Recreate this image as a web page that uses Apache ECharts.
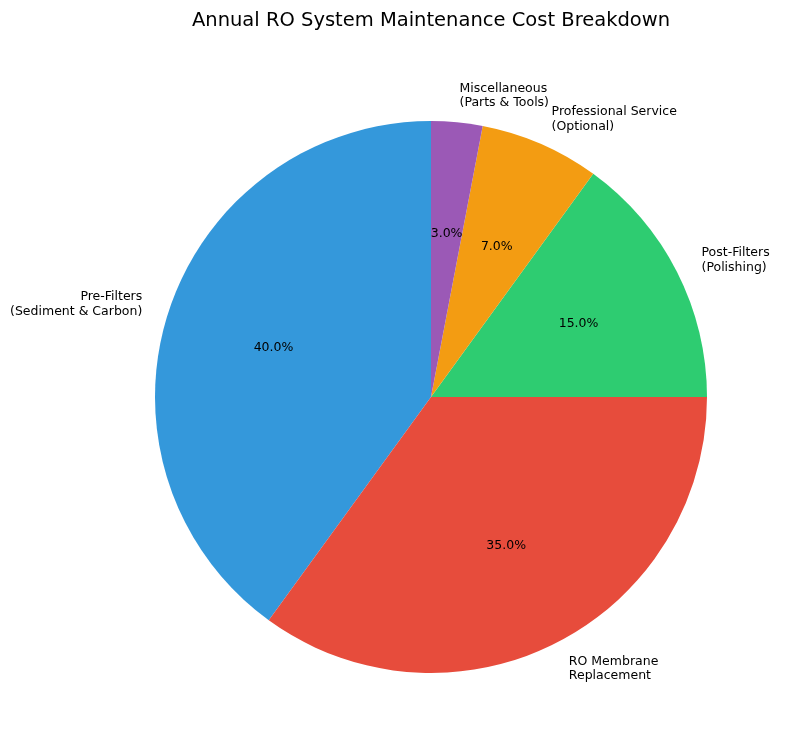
<!DOCTYPE html>
<html>
<head>
<meta charset="utf-8">
<script src="https://cdn.jsdelivr.net/npm/echarts@6/dist/echarts.min.js"></script>
<style>
html,body{margin:0;padding:0;background:#fff;}
#chart{width:785px;height:752px;}
</style>
</head>
<body>
<div id="chart"></div>
<script>
const categories = ['Pre-Filters\n(Sediment & Carbon)', 'RO Membrane\nReplacement', 'Post-Filters\n(Polishing)', 'Professional Service\n(Optional)', 'Miscellaneous\n(Parts & Tools)'];
const values = [40, 35, 15, 7, 3];
const colors = ['#3498db', '#e74c3c', '#2ecc71', '#f39c12', '#9b59b6'];

const cx = 431, cy = 397, R = 276;
const chart = echarts.init(document.getElementById('chart'));
const font = 'DejaVu Sans';
const data = categories.map((c, i) => ({ name: c, value: values[i], itemStyle: { color: colors[i] } }));
chart.setOption({
  animation: false,
  title: {
    text: 'Annual RO System Maintenance Cost Breakdown',
    left: cx - 5, top: 6, textAlign: 'center',
    textStyle: { fontFamily: font, fontSize: 19.5, fontWeight: 'normal', color: '#000' }
  },
  series: [
    {
      type: 'pie', center: [cx, cy], radius: [0, R],
      startAngle: 90, clockwise: false, avoidLabelOverlap: false,
      data: data,
      itemStyle: { borderWidth: 0 },
      label: {
        show: true, position: 'outside', formatter: '{b}',
        fontFamily: font, fontSize: 12.5, lineHeight: 14.5, color: '#000',
        distanceToLabelLine: 0, offset: [0, 1]
      },
      labelLine: { show: false, length: R * 0.1, length2: 0 },
      emphasis: { disabled: true }
    },
    {
      type: 'pie', center: [cx, cy], radius: [R * 0.2 - 6, R],
      startAngle: 90, clockwise: false, avoidLabelOverlap: false, silent: true,
      data: categories.map((c, i) => ({ name: c, value: values[i] })),
      itemStyle: { color: 'rgba(0,0,0,0)', borderWidth: 0 },
      label: {
        show: true, position: 'inside',
        formatter: p => p.value.toFixed(1) + '%',
        fontFamily: font, fontSize: 12.5, color: '#000', offset: [0, 1.5]
      },
      labelLine: { show: false },
      emphasis: { disabled: true }
    }
  ]
});
</script>
</body>
</html>
